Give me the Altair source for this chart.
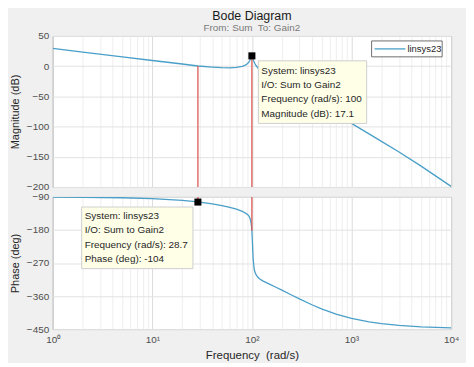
import altair as alt
import pandas as pd

# ---- data ----
freq = [1, 2, 5, 10, 20, 28.7, 40, 50, 60, 70, 80, 85, 90, 93, 95, 97, 98, 99, 100,
        101, 102, 103, 105, 107, 110, 115, 120, 130, 150, 170, 200, 250, 300, 400,
        500, 700, 1000, 1500, 2000, 3000, 5000, 10000]
mag_db = [29.3, 23.3, 15.3, 9.4, 3.6, 0.3, -1.5, -2.4, -2.7, -2.1, -0.3, 1.3, 4.0,
          6.5, 8.9, 12.1, 14.2, 16.2, 17.1, 15.9, 13.5, 11.2, 7.4, 4.5, 1.1, -3.0,
          -6.1, -10.8, -17.4, -24.0, -30.4, -38.8, -45.7, -56.9, -65.8, -79.7,
          -94.7, -112.1, -124.5, -142.0, -165.5, -199.0]
phase_deg = [-90.5, -90.9, -92.3, -94.7, -99.3, -103.6, -108.7, -113.4, -118.2,
             -123.4, -129.3, -133.1, -137.5, -141.5, -146.0, -154.0, -160.0, -169.0,
             -184.0, -208.0, -236.0, -260.0, -283.0, -294.0, -302.0, -309.0, -313.5,
             -319.4, -327.7, -334.8, -344.1, -357.2, -367.8, -383.8, -395.0, -409.2,
             -420.8, -430.3, -435.2, -440.1, -444.1, -447.0]

series_name = "linsys23"
x_decades = [1, 10, 100, 1000, 10000]
x_tick_labels = ["10\u2070", "10\u00b9", "10\u00b2", "10\u00b3", "10\u2074"]
mag_ticks = [-200, -150, -100, -50, 0, 50]
phase_ticks = [-450, -360, -270, -180, -90]

tip_mag_freq = [100]
tip_mag_val = [17.1]
tip_phase_freq = [28.7]
tip_phase_val = [-104]
mag_tip_lines = ["System: linsys23", "I/O: Sum to Gain2",
                 "Frequency (rad/s): 100", "Magnitude (dB): 17.1"]
phase_tip_lines = ["System: linsys23", "I/O: Sum to Gain2",
                   "Frequency (rad/s): 28.7", "Phase (deg): -104"]

cursor_freq = [28.7, 100]
cursor_mag = [0.3, 17.1]
cursor_phase = [-104, -182]

# ---- tables ----
curve = pd.DataFrame({"freq": freq, "mag": mag_db, "phase": phase_deg, "name": series_name})
cur_mag = pd.DataFrame({"freq": cursor_freq, "y1": cursor_mag, "y2": [mag_ticks[0]] * 2})
cur_ph = pd.DataFrame({"freq": cursor_freq, "y1": [phase_ticks[-1]] * 2, "y2": cursor_phase})
tipm = pd.DataFrame({"freq": tip_mag_freq, "v": tip_mag_val, "txt": ["\n".join(mag_tip_lines)]})
tipp = pd.DataFrame({"freq": tip_phase_freq, "v": tip_phase_val, "txt": ["\n".join(phase_tip_lines)]})
leg = pd.DataFrame({"freq": [x_decades[-1]], "v": [mag_ticks[-1]], "name": [series_name]})

FONT = "Liberation Sans"
BLUE = "#4a9fc8"
RED = "#dc5a52"

x_grid_vals = sorted(set(x_decades + [m * d for d in x_decades[:-1] for m in range(2, 10)]))
dec_list = "[" + ",".join(str(d) for d in x_decades) + "]"
label_expr = " : ".join(f"datum.value == {d} ? '{t}'" for d, t in zip(x_decades, x_tick_labels)) + " : ''"
grid_cond = {"condition": {"test": f"indexof({dec_list}, datum.value) >= 0", "value": "#dcdcdc"},
             "value": "#eeeeee"}

xs = alt.Scale(type="log", domain=[x_decades[0], x_decades[-1]], nice=False)
ax_top = alt.Axis(values=x_grid_vals, labels=False, ticks=False, domain=False, title=None,
                  grid=True, gridColor=grid_cond)
ax_bot = alt.Axis(values=x_grid_vals, labelExpr=label_expr, labelOverlap=False, labelFlush=False,
                  ticks=False, domain=False, grid=True, gridColor=grid_cond,
                  title="Frequency\u00a0 (rad/s)",
                  labelPadding=6, titlePadding=5, labelFontSize=10, titleFontSize=11.5)

ys_m = alt.Scale(domain=[mag_ticks[0], mag_ticks[-1]], nice=False)
ys_p = alt.Scale(domain=[phase_ticks[0], phase_ticks[-1]], nice=False)
ay_m = alt.Axis(values=mag_ticks, title="Magnitude (dB)", grid=True)
ay_p = alt.Axis(values=phase_ticks, title="Phase (deg)", grid=True)

X_t = alt.X("freq:Q", scale=xs, axis=ax_top)
X_b = alt.X("freq:Q", scale=xs, axis=ax_bot)

# ---- top panel ----
m_line = alt.Chart(curve).mark_line(color=BLUE, strokeWidth=1.3, clip=True).encode(
    x=X_t, y=alt.Y("mag:Q", scale=ys_m, axis=ay_m))
m_rule = alt.Chart(cur_mag).mark_rule(color=RED, strokeWidth=1.3).encode(
    x=X_t, y=alt.Y("y1:Q", scale=ys_m, axis=ay_m), y2="y2:Q")
m_box = alt.Chart(tipm).mark_rect(fill="#ffffe8", stroke="#cfcfcf", strokeWidth=1,
                                  xOffset=6.5, x2Offset=115.5, yOffset=5, y2Offset=68).encode(
    x=X_t, x2="freq:Q", y=alt.Y("v:Q", scale=ys_m, axis=ay_m), y2="v:Q")
m_txt = alt.Chart(tipm).mark_text(align="left", baseline="top", dx=9.5, dy=10, lineBreak="\n",
                                  lineHeight=14.4, font=FONT, fontSize=10, color="#262626").encode(
    x=X_t, y=alt.Y("v:Q", scale=ys_m, axis=ay_m), text="txt:N")
m_pt = alt.Chart(tipm).mark_square(size=50, color="black", opacity=1).encode(
    x=X_t, y=alt.Y("v:Q", scale=ys_m, axis=ay_m))
l_box = alt.Chart(leg).mark_rect(fill="white", stroke="#6e6e6e", strokeWidth=1,
                                 xOffset=-80, x2Offset=-9, yOffset=5, y2Offset=21).encode(
    x=X_t, x2="freq:Q", y=alt.Y("v:Q", scale=ys_m, axis=ay_m), y2="v:Q")
l_line = alt.Chart(leg).mark_rule(color=BLUE, strokeWidth=1.3, xOffset=-77, x2Offset=-46,
                                  yOffset=13).encode(
    x=X_t, x2="freq:Q", y=alt.Y("v:Q", scale=ys_m, axis=ay_m))
l_txt = alt.Chart(leg).mark_text(align="left", baseline="middle", dx=-44, dy=13, font=FONT,
                                 fontSize=9.5, color="#262626").encode(
    x=X_t, y=alt.Y("v:Q", scale=ys_m, axis=ay_m), text="name:N")

top = alt.layer(m_line, m_rule, m_box, m_txt, m_pt, l_box, l_line, l_txt).properties(
    width=401, height=152,
    title=alt.TitleParams("Bode Diagram", subtitle="From: Sum\u00a0 To: Gain2", font=FONT,
                          fontSize=12.5, fontWeight="normal", color="#1a1a1a",
                          subtitleFont=FONT, subtitleFontSize=10, subtitleColor="#7a7a7a",
                          subtitlePadding=1, offset=-2, anchor="middle", frame="group"))

# ---- bottom panel ----
p_line = alt.Chart(curve).mark_line(color=BLUE, strokeWidth=1.3, clip=True).encode(
    x=X_b, y=alt.Y("phase:Q", scale=ys_p, axis=ay_p))
p_rule = alt.Chart(cur_ph).mark_rule(color=RED, strokeWidth=1.3).encode(
    x=X_b, y=alt.Y("y1:Q", scale=ys_p, axis=ay_p), y2="y2:Q")
p_box = alt.Chart(tipp).mark_rect(fill="#ffffe8", stroke="#cfcfcf", strokeWidth=1,
                                  xOffset=-117, x2Offset=-5, yOffset=5, y2Offset=67).encode(
    x=X_b, x2="freq:Q", y=alt.Y("v:Q", scale=ys_p, axis=ay_p), y2="v:Q")
p_txt = alt.Chart(tipp).mark_text(align="left", baseline="top", dx=-114, dy=9, lineBreak="\n",
                                  lineHeight=14.6, font=FONT, fontSize=10, color="#262626").encode(
    x=X_b, y=alt.Y("v:Q", scale=ys_p, axis=ay_p), text="txt:N")
p_pt = alt.Chart(tipp).mark_square(size=50, color="black", opacity=1).encode(
    x=X_b, y=alt.Y("v:Q", scale=ys_p, axis=ay_p))

bottom = alt.layer(p_line, p_rule, p_box, p_txt, p_pt).properties(width=401, height=133)

chart = alt.vconcat(top, bottom, spacing=10, bounds="flush").configure(
    background="#f0f0f0", padding={"left": 0, "top": 0, "right": 6, "bottom": 0}
).configure_view(fill="white", stroke="#999999", strokeWidth=1).configure_axis(
    labelFont=FONT, titleFont=FONT, labelFontSize=10, titleFontSize=11,
    labelColor="#4d4d4d", titleColor="#262626", titleFontWeight="normal",
    labelPadding=4, titlePadding=6, gridColor="#e2e2e2", gridWidth=1,
    domain=False, ticks=False)

chart.save("out.html", embed_options={"renderer": "svg", "actions": False})
